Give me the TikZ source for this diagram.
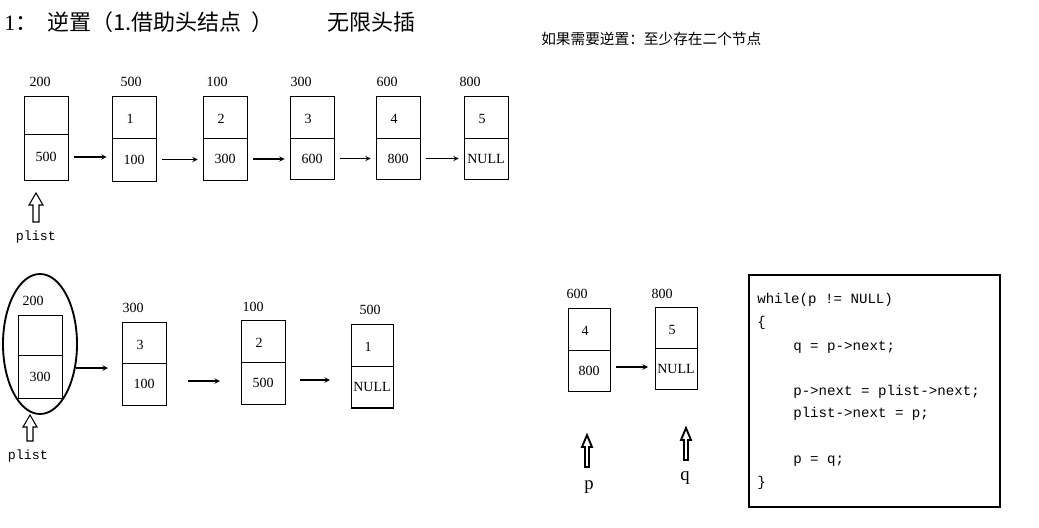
\documentclass[tikz,border=0pt]{standalone}
\usepackage{fontspec}
\setmainfont{Liberation Serif}
\setmonofont{Liberation Mono}
\newfontfamily\cjk{Noto Sans CJK SC}
\begin{document}
\begin{tikzpicture}[x=0.75pt,y=-0.75pt,
  lbl/.style={font=\fontsize{10.5}{12}\selectfont,inner sep=0pt},
  arr/.style={->,>=stealth,line width=0.8pt},
  box/.style={draw,line width=0.7pt,inner sep=0pt}]
\useasboundingbox (0,0) rectangle (1039,528);
\newcommand\splitbx[8]{% name x1 y1 x2 ys y2 top bottom
  \node[box,minimum width={(#4-#2)*0.75pt},minimum height={(#6-#3)*0.75pt},anchor=north west] (#1) at (#2,#3) {};
  \draw[line width=0.7pt] (#2,#5) -- (#4,#5);
  \node[lbl] (#1t) at ({(#2+#4)/2-4},{(#3+#5)/2+2}) {#7};
  \node[lbl] (#1b) at ({(#2+#4)/2},{(#5+#6)/2}) {#8};}
\newcommand\hollowup[3]{% x ytop ybot
  \draw[line width=0.8pt] (#1-3,#3) -- (#1-3,#2+12) -- (#1-7,#2+12) -- (#1,#2) -- (#1+7,#2+12) -- (#1+3,#2+12) -- (#1+3,#3) -- cycle;}
% title
\node[anchor=west,inner sep=0pt,font=\fontsize{16.5}{19}\selectfont] (title) at (4,22) {1\cjk：\ \ 逆置（1.借助头结点\ \ ）\qquad\ \ 无限头插};
\node[anchor=west,inner sep=0pt,font=\cjk\fontsize{11}{13}\selectfont] (note) at (541,39) {如果需要逆置：至少存在二个节点};
% top row
\splitbx{a1}{24}{96}{68}{134}{180}{}{500}
\splitbx{a2}{112}{96}{156}{138}{181}{1}{100}
\splitbx{a3}{203}{96}{247}{138}{180}{2}{300}
\splitbx{a4}{290}{96}{334}{138}{179}{3}{600}
\splitbx{a5}{376}{96}{420}{138}{179}{4}{800}
\splitbx{a6}{464}{96}{508}{138}{179}{5}{NULL}
\node[lbl] at (40,82) {200};\node[lbl] at (131,82) {500};\node[lbl] at (217,82) {100};
\node[lbl] at (301,82) {300};\node[lbl] at (387,82) {600};\node[lbl] at (470,82) {800};
\foreach \a/\b in {a1/a2,a2/a3,a3/a4,a4/a5,a5/a6}
  \draw[arr,shorten <=4pt,shorten >=4pt] (\a.east|-\a b) -- (\b.west|-\a b);
\hollowup{36}{193}{222}
\node[lbl,font=\ttfamily\fontsize{10}{12}\selectfont] (pl1) at (36,237) {plist};
% bottom row
\draw[line width=1.4pt] (40,344) ellipse (37 and 70);
\splitbx{b1}{18}{315}{62}{355}{398}{}{300}
\splitbx{b2}{122}{322}{166}{363}{405}{3}{100}
\splitbx{b3}{241}{320}{285}{362}{404}{2}{500}
\splitbx{b4}{351}{324}{393}{366}{408}{1}{NULL}
\node[lbl] at (33,301) {200};\node[lbl] at (133,308) {300};
\node[lbl] at (253,307) {100};\node[lbl] at (370,310) {500};
\draw[arr] (76,368) -- (108,368);
\draw[arr] (188,381) -- (220,381);
\draw[arr] (300,380) -- (330,380);
\draw[line width=1.2pt] (351,408) -- (393,408);
\hollowup{30}{415}{441}
\node[lbl,font=\ttfamily\fontsize{10}{12}\selectfont] (pl2) at (28,456) {plist};
% p, q
\splitbx{c1}{568}{308}{610}{350}{391}{4}{800}
\splitbx{c2}{655}{307}{697}{348}{389}{5}{NULL}
\node[lbl] at (577,294) {600};\node[lbl] at (662,294) {800};
\draw[arr] (616,367) -- (648,367);
\draw[line width=1.4pt] (587,435) -- (582,447) -- (585,447) -- (585,467) -- (589,467) -- (589,447) -- (592,447) -- cycle;
\draw[line width=1.4pt] (686,428) -- (681,440) -- (684,440) -- (684,460) -- (688,460) -- (688,440) -- (691,440) -- cycle;
\node[lbl,font=\fontsize{14}{16}\selectfont] (p) at (589,487) {p};
\node[lbl,font=\fontsize{14}{16}\selectfont] (q) at (685,478) {q};
% code
\draw[line width=1.6pt] (749,275) rectangle (1000,507);
\begin{scope}[every node/.style={anchor=west,inner sep=0pt,font=\ttfamily\fontsize{10.6}{12}\selectfont}]
\node (l1) at (757,300) {while(p != NULL)};
\node (l2) at (757,323) {\{};
\node (l3) at (793,347) {q = p->next;};
\node (l4) at (793,392) {p->next = plist->next;};
\node (l5) at (793,414) {plist->next = p;};
\node (l6) at (793,461) {p = q;};
\node (l7) at (757,483) {\}};
\end{scope}
\end{tikzpicture}
\end{document}
